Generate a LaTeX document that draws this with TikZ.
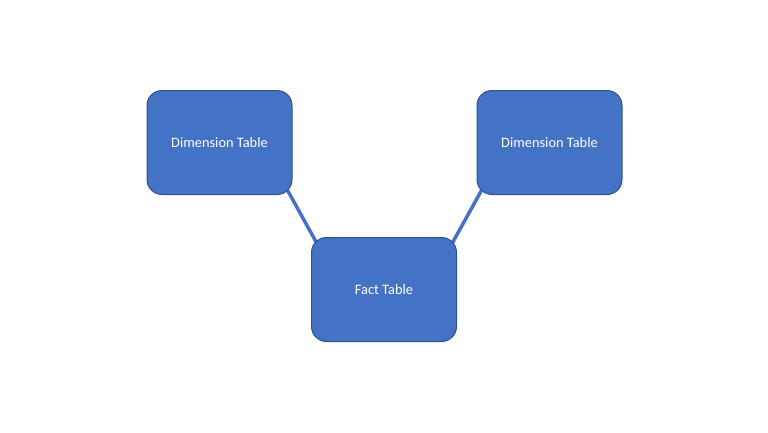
\documentclass[tikz,border=0pt]{standalone}
\usepackage{fontspec}
\setmainfont{Carlito}
\usetikzlibrary{backgrounds}

\definecolor{azul}{HTML}{4472C4}
\definecolor{azulescuro}{HTML}{2F528F}

\begin{document}
\begin{tikzpicture}[
        x=1pt, y=-1pt,
        tabela/.style={rectangle, rounded corners=15pt, draw=azulescuro, line width=1pt,
            fill=azul, text=white, minimum width=145pt, minimum height=104pt, inner sep=0pt},
        ligacao/.style={draw=azul, line width=3.5pt},
        every node/.style={font=\fontsize{14.4}{17}\selectfont}
    ]

        \useasboundingbox (0,0) rectangle (768,432);

        % ==================================================
        % TABELAS
        % ==================================================

        \node[tabela] (dimEsq) at (219.5,142.5) {Dimension Table};
        \node[tabela] (dimDir) at (549.5,142.5) {Dimension Table};
        \node[tabela] (fato)   at (384,289.5)   {Fact Table};

        % Ligacoes
        \begin{scope}[on background layer]
            \draw[ligacao] ([xshift=-9pt,yshift=12pt]dimEsq.south east) -- ([xshift=9pt,yshift=-12pt]fato.north west);
            \draw[ligacao] ([xshift=8pt,yshift=10pt]dimDir.south west) -- ([xshift=-8pt,yshift=-12pt]fato.north east);
        \end{scope}

    \end{tikzpicture}
\end{document}
